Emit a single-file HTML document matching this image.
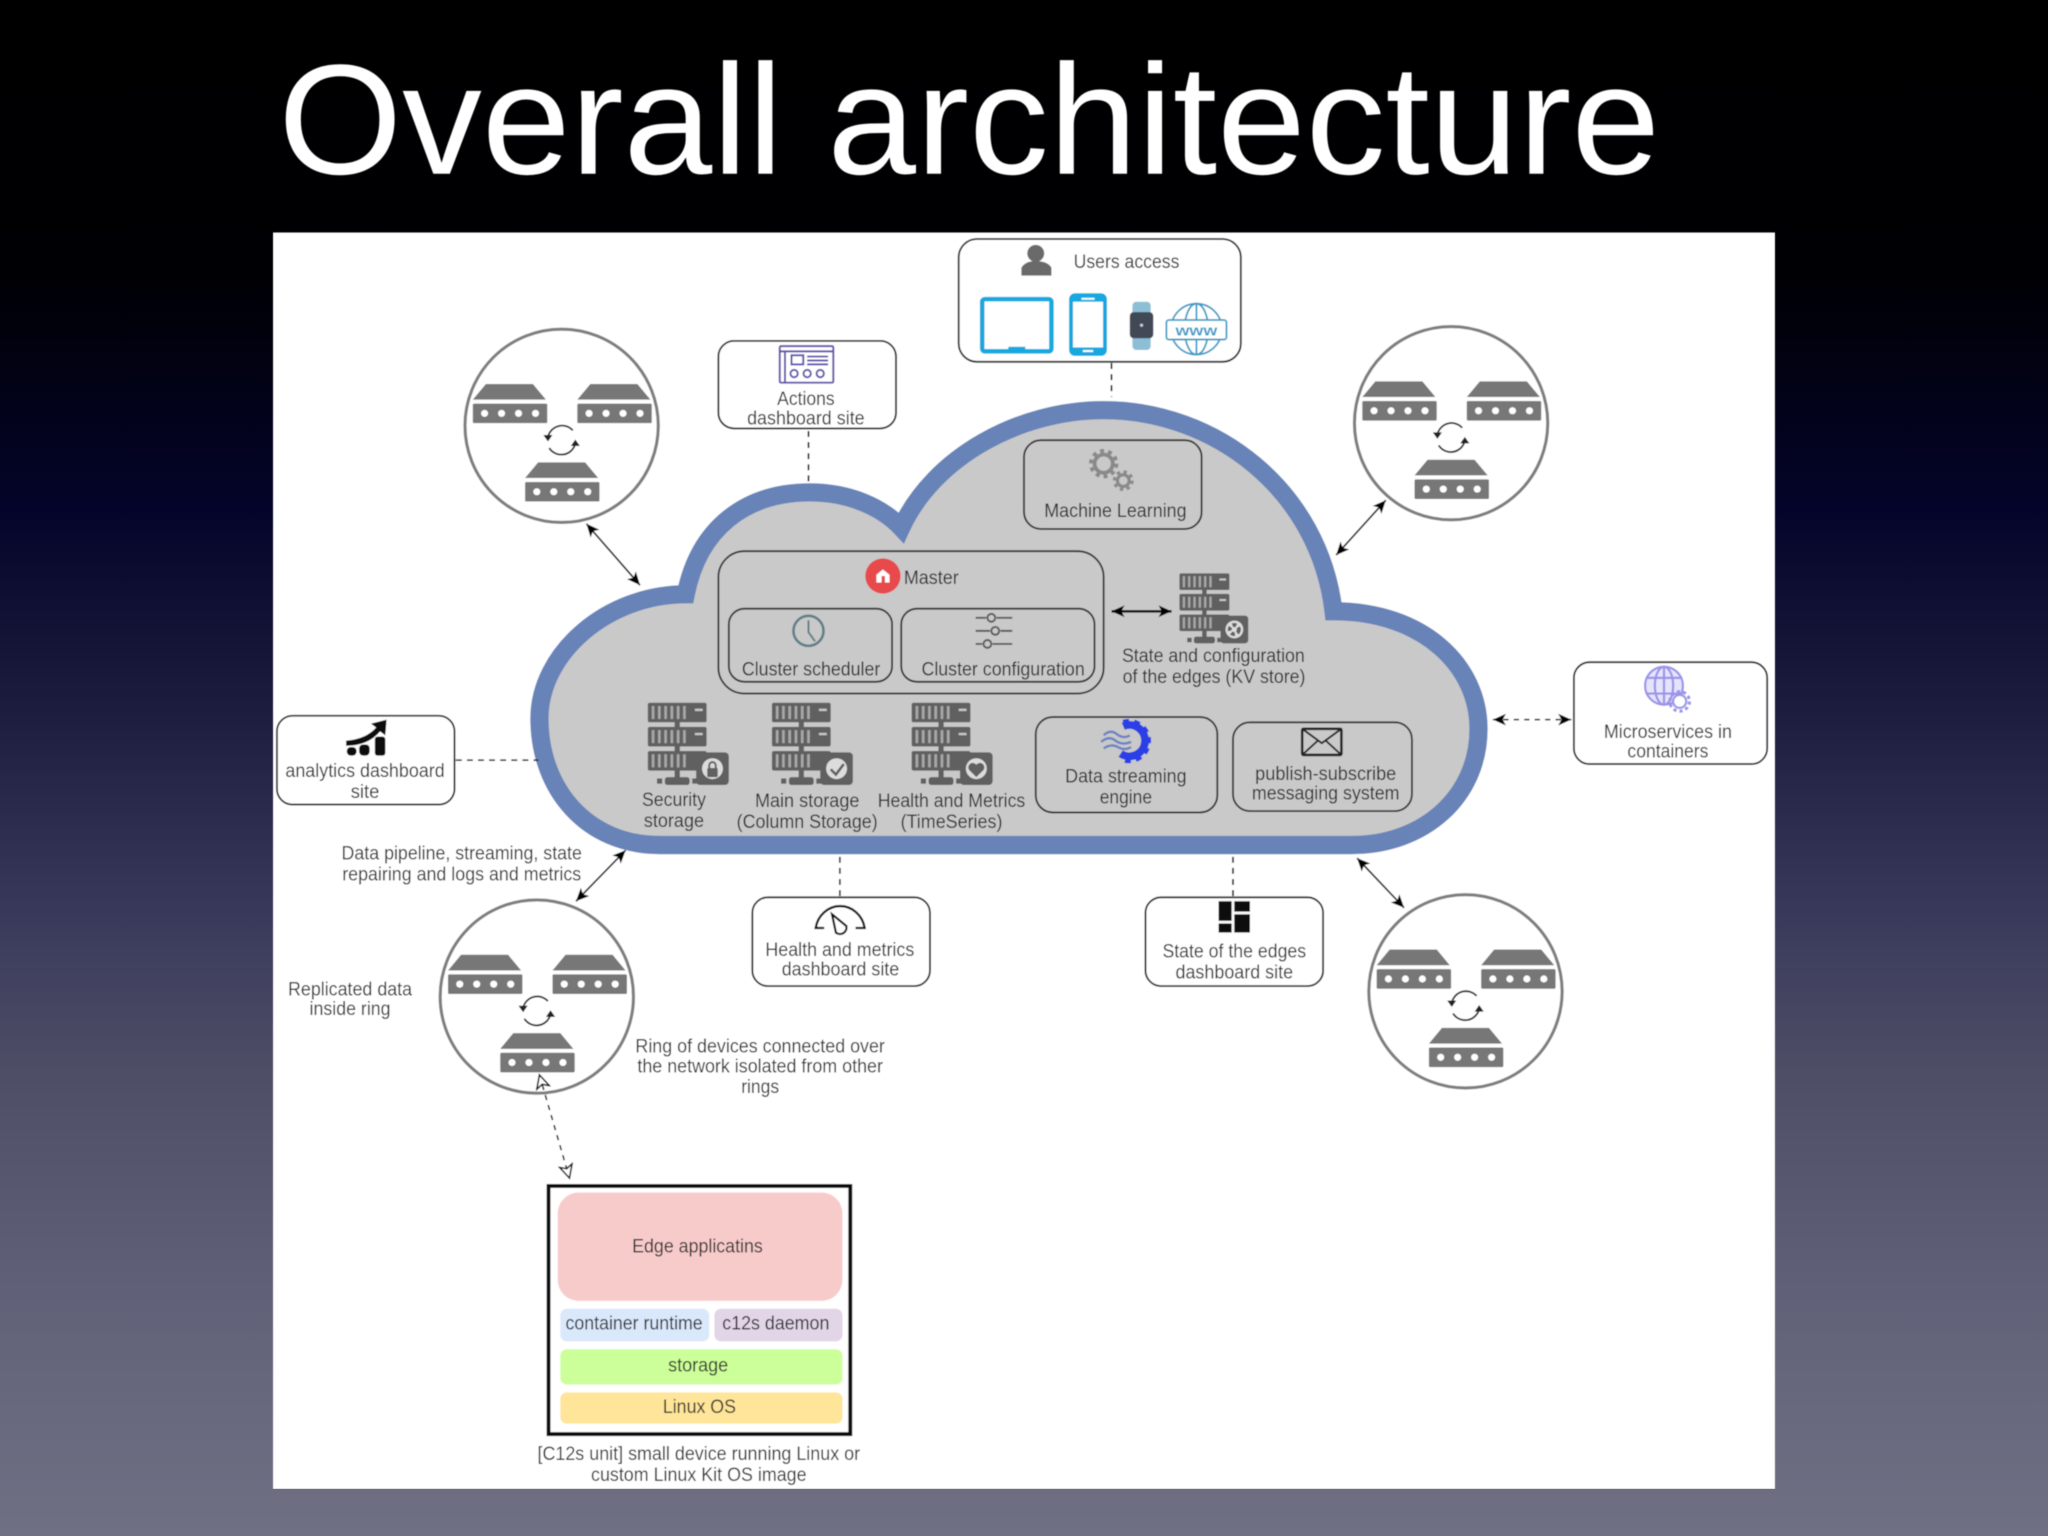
<!DOCTYPE html>
<html lang="en">
<head>
<meta charset="utf-8">
<title>Overall architecture</title>
<style>
html,body{margin:0;padding:0;width:2048px;height:1536px;overflow:hidden;background:#000}
svg{display:block}
text{font-family:"Liberation Sans",sans-serif}
.t{font-size:14.5px;fill:#2c2c2c;text-anchor:middle}
.box{fill:#fff;stroke:#222;stroke-width:1.400}
.bx{fill:none;stroke:#2e2e2e;stroke-width:1.400}
.dash{stroke:#111;stroke-width:1.300;stroke-dasharray:4.500 4;fill:none}
.arr{stroke:#111;stroke-width:1.300;fill:none;marker-start:url(#ah);marker-end:url(#ah)}
</style>
</head>
<body>
<svg width="2048" height="1536" viewBox="0 0 1568 1176" xmlns="http://www.w3.org/2000/svg">
<defs>
<linearGradient id="bg" x1="0" y1="0" x2="0" y2="1">
<stop offset="0" stop-color="#000"/>
<stop offset=".18" stop-color="#000004"/>
<stop offset=".33" stop-color="#04042a"/>
<stop offset=".46" stop-color="#1c1c3e"/>
<stop offset=".60" stop-color="#3a3a5c"/>
<stop offset=".70" stop-color="#4e4e66"/>
<stop offset=".84" stop-color="#606078"/>
<stop offset="1" stop-color="#707084"/>
</linearGradient>
<filter id="soft" x="0" y="0" width="100%" height="100%"><feGaussianBlur stdDeviation="0.4"/></filter>
<marker id="ah" markerUnits="userSpaceOnUse" markerWidth="12" markerHeight="10" refX="10" refY="5" orient="auto-start-reverse">
<path d="M0,0.5 L10,5 L0,9.5 L2.5,5 Z" fill="#000"/>
</marker>
<marker id="oa" markerUnits="userSpaceOnUse" markerWidth="14" markerHeight="12" refX="11" refY="6" orient="auto-start-reverse">
<path d="M1,1 L11,6 L1,11 L3.5,6 Z" fill="#fff" stroke="#111" stroke-width="1.200"/>
</marker>
<g id="dev">
<path d="M-18,-12 L18,-12 L28,0 L-28,0 Z" fill="#777"/>
<rect x="-28" y="3" width="57" height="15" rx="1" fill="#777"/>
<g fill="#fff"><circle cx="-19" cy="10.500" r="2.700"/><circle cx="-6" cy="10.500" r="2.700"/><circle cx="7" cy="10.500" r="2.700"/><circle cx="20" cy="10.500" r="2.700"/></g>
</g>
<g id="sync">
<g fill="none" stroke="#222" stroke-width="1.400">
<path d="M8.500,-7.500 A11,11 0 0 0 -10.500,-2"/>
<path d="M-9.500,6 A11,11 0 0 0 10.500,2.500"/>
</g>
<path d="M-14,-4 L-7,-4 L-10.500,1Z" fill="#222"/>
<path d="M7,4.500 L14,4.500 L10.500,-0.500Z" fill="#222"/>
</g>
<g id="ring">
<circle r="74" fill="#fff" stroke="#7e7e7e" stroke-width="2.400"/>
<use href="#dev" x="-40" y="-20"/>
<use href="#dev" x="40" y="-20"/>
<use href="#dev" x="0" y="40"/>
<use href="#sync" x="0" y="11"/>
</g>
<g id="srv">
<g fill="#606060">
<rect width="45" height="15" rx="1.500"/>
<rect y="18.500" width="45" height="15" rx="1.500"/>
<rect y="37" width="45" height="15" rx="1.500"/>
<rect x="20.500" y="14" width="4" height="46"/>
<rect x="13" y="57" width="19" height="6" rx="2"/>
<rect x="7" y="58" width="4" height="4"/>
<rect x="34" y="58" width="4" height="4"/>
</g>
<g stroke="#a9a9a9" stroke-width="10" stroke-dasharray="2 2.800" fill="none">
<path d="M3,7.500H30"/><path d="M3,26H30"/><path d="M3,44.500H30"/>
</g>
<g stroke="#c8c8c8" stroke-width="1.800"><path d="M36,5.500H42"/><path d="M36,24H42"/></g>
<rect x="37" y="38" width="25" height="25" rx="3" fill="#606060"/>
<circle cx="49.500" cy="50.500" r="8" fill="#dcdcdc"/>
</g>
</defs>

<rect width="1568" height="1176" fill="url(#bg)"/>
<g filter="url(#soft)">
<text x="742" y="133" font-size="120" fill="#fff" text-anchor="middle" textLength="1058" lengthAdjust="spacingAndGlyphs">Overall architecture</text>

<rect x="209" y="178" width="1150" height="962" fill="#fff"/>

<!-- cloud -->
<path d="M505,647 C450,647 413,605 413,550 C413,500 465,455 525,455 C535,405 570,377 620,377 C650,377 675,388 690,404 C715,350 780,314 845,314 C930,314 1010,375 1021,468 C1090,468 1132,510 1132,558 C1132,610 1090,647 1035,647 Z" fill="#c9c9c9" stroke="#6783b8" stroke-width="14" stroke-linejoin="miter" stroke-miterlimit="10"/>

<!-- connectors -->
<path class="dash" d="M851,278V304"/>
<path class="dash" d="M619,330V369"/>
<path class="dash" d="M349,582H412"/>
<path class="dash" d="M643,656V686"/>
<path class="dash" d="M944,656V686"/>
<path class="arr" d="M449,401L490,448"/>
<path class="arr" d="M1061,383L1023,425"/>
<path class="arr" d="M851,468H897" style="stroke-width:2"/>
<path class="arr" d="M1143,551H1203" style="stroke-dasharray:4 4"/>
<path class="arr" d="M441,690L479,651"/>
<path class="arr" d="M1039,657L1075,695"/>

<!-- rings -->
<use href="#ring" x="430" y="326"/>
<use href="#ring" x="1111" y="324"/>
<use href="#ring" x="411" y="763"/>
<use href="#ring" x="1122" y="759"/>
<path d="M413,823L436,902" fill="none" stroke="#111" stroke-width="1.200" stroke-dasharray="4 4" marker-start="url(#oa)" marker-end="url(#oa)"/>

<!-- users access -->
<rect class="box" x="734" y="183" width="216" height="94" rx="14"/>
<circle cx="793" cy="194" r="6.500" fill="#6b6b6b"/>
<path d="M782,211 L782,205 Q784,201 790,200 L796,200 Q803,201 805,205 L805,211 Z" fill="#6b6b6b"/>
<text class="t" x="862.500" y="205" textLength="81" lengthAdjust="spacingAndGlyphs">Users access</text>
<rect x="752" y="229" width="53" height="40" rx="2" fill="#fff" stroke="#12a8de" stroke-width="3.500"/>
<rect x="772" y="265.500" width="13" height="2" fill="#12a8de"/>
<rect x="820" y="226" width="26" height="45" rx="3" fill="#fff" stroke="#12a8de" stroke-width="3"/>
<rect x="820" y="226" width="26" height="5" fill="#12a8de"/>
<rect x="820" y="266" width="26" height="5" fill="#12a8de"/>
<rect x="828" y="228" width="10" height="1.500" fill="#fff"/>
<rect x="829" y="268" width="8" height="1.500" fill="#fff"/>
<rect x="867" y="231" width="14" height="37" rx="3" fill="#8cbfd6"/>
<rect x="865" y="239" width="18" height="20" rx="3" fill="#3f4854"/>
<circle cx="874" cy="249" r="1.200" fill="#ccc"/>
<g fill="none" stroke="#3d9cc8" stroke-width="1.400">
<circle cx="916" cy="252" r="19.500"/>
<ellipse cx="916" cy="252" rx="9" ry="19.500"/>
<path d="M916,232V245M916,260V272"/>
<rect x="893" y="245" width="46" height="15" rx="2" fill="#fff"/>
</g>
<text x="916" y="257" font-size="11" font-weight="bold" fill="#3d9cc8" text-anchor="middle" textLength="32" lengthAdjust="spacingAndGlyphs">www</text>

<!-- actions -->
<rect class="box" x="550" y="261" width="136" height="67" rx="12"/>
<g fill="none" stroke="#5c52a8" stroke-width="1.500">
<rect x="597" y="265" width="41" height="28" rx="1"/>
<path d="M597,269H638M601,269V293"/>
<rect x="606" y="272" width="9" height="7"/>
<path d="M618,273H634M618,276H634M618,279H634"/>
<circle cx="608" cy="286" r="2.800"/><circle cx="618" cy="286" r="2.800"/><circle cx="628" cy="286" r="2.800"/>
</g>
<text class="t" x="617" y="310" textLength="44" lengthAdjust="spacingAndGlyphs">Actions</text>
<text class="t" x="617" y="325" textLength="90" lengthAdjust="spacingAndGlyphs">dashboard site</text>

<!-- machine learning -->
<rect class="bx" x="784" y="337" width="136" height="68" rx="13"/>
<g fill="none" stroke="#8a8a8a">
<circle cx="845" cy="355" r="7" stroke-width="3"/>
<circle cx="845" cy="355" r="9.500" stroke-width="3.500" stroke-dasharray="3 2.970"/>
<circle cx="860" cy="368" r="4.500" stroke-width="2.500"/>
<circle cx="860" cy="368" r="6.500" stroke-width="3" stroke-dasharray="2.500 2.600"/>
</g>
<text class="t" x="854" y="396" textLength="109" lengthAdjust="spacingAndGlyphs">Machine Learning</text>

<!-- master -->
<rect class="bx" x="550" y="422" width="295" height="109" rx="20"/>
<circle cx="676" cy="441" r="13.500" fill="#e8494c"/>
<path d="M671,446V440L676,436L681,440V446Z" fill="#fff"/>
<rect x="675" y="441" width="2.500" height="5" fill="#e8494c"/>
<text class="t" x="713" y="447" textLength="42" lengthAdjust="spacingAndGlyphs">Master</text>
<rect class="bx" x="558" y="466" width="125" height="56" rx="12"/>
<circle cx="619" cy="483" r="11.500" fill="none" stroke="#5f7f85" stroke-width="2"/>
<path d="M619,475V484L624,491" fill="none" stroke="#5f7f85" stroke-width="1.500"/>
<text class="t" x="621" y="517" textLength="106" lengthAdjust="spacingAndGlyphs">Cluster scheduler</text>
<rect class="bx" x="690" y="466" width="148" height="56" rx="12"/>
<g fill="none" stroke="#5a5a5a" stroke-width="1.500">
<path d="M747,473H755M763,473H775M747,483H758M766,483H775M747,493H752M760,493H775"/>
<circle cx="759" cy="473" r="3"/><circle cx="762" cy="483" r="3"/><circle cx="756" cy="493" r="3"/>
</g>
<text class="t" x="768" y="517" textLength="125" lengthAdjust="spacingAndGlyphs">Cluster configuration</text>

<!-- KV store -->
<use href="#srv" transform="translate(903,439) scale(.85)"/>
<circle cx="945" cy="482" r="3.500" fill="none" stroke="#606060" stroke-width="3" stroke-dasharray="3 2"/>
<text class="t" x="929" y="507" textLength="140" lengthAdjust="spacingAndGlyphs">State and configuration</text>
<text class="t" x="929.500" y="523" textLength="140" lengthAdjust="spacingAndGlyphs">of the edges (KV store)</text>

<!-- storage icons -->
<use href="#srv" x="496" y="538"/>
<rect x="541.500" y="588" width="8" height="7" rx="1" fill="#606060"/>
<path d="M543,588V586A2.500,2.500 0 0 1 548,586V588" fill="none" stroke="#606060" stroke-width="1.500"/>
<text class="t" x="516" y="617" textLength="49" lengthAdjust="spacingAndGlyphs">Security</text>
<text class="t" x="516" y="633" textLength="46" lengthAdjust="spacingAndGlyphs">storage</text>

<use href="#srv" x="591" y="538"/>
<path d="M636,589L640,593L646,585" fill="none" stroke="#606060" stroke-width="2"/>
<text class="t" x="618" y="618" textLength="80" lengthAdjust="spacingAndGlyphs">Main storage</text>
<text class="t" x="618" y="634" textLength="108" lengthAdjust="spacingAndGlyphs">(Column Storage)</text>

<use href="#srv" x="698" y="538"/>
<path d="M747.500,595L742,589.500A3.300,3.300 0 0 1 747.500,585.500A3.300,3.300 0 0 1 753,589.500Z" fill="#606060"/>
<text class="t" x="728.500" y="618" textLength="113" lengthAdjust="spacingAndGlyphs">Health and Metrics</text>
<text class="t" x="728.500" y="634" textLength="78" lengthAdjust="spacingAndGlyphs">(TimeSeries)</text>

<!-- streaming -->
<rect class="bx" x="793" y="549" width="139" height="73" rx="13"/>
<path d="M860,556A12,12 0 1 1 858,577" fill="none" stroke="#2b3fe6" stroke-width="6"/>
<path d="M860,553A15,15 0 1 1 858,581" fill="none" stroke="#2b3fe6" stroke-width="4" stroke-dasharray="4.500 3.800"/>
<path d="M845,563q5,-5 10,-1t10,1M843,568q6,-5 11,-1t12,1M845,573q6,-4 11,-1t10,0" fill="none" stroke="#6c82c4" stroke-width="1.800"/>
<text class="t" x="862" y="599" textLength="93" lengthAdjust="spacingAndGlyphs">Data streaming</text>
<text class="t" x="862" y="615" textLength="40" lengthAdjust="spacingAndGlyphs">engine</text>

<!-- pubsub -->
<rect class="bx" x="944" y="553" width="137" height="68" rx="13"/>
<rect x="997" y="558" width="30" height="20" rx="1" fill="none" stroke="#222" stroke-width="2"/>
<path d="M997,558L1012,569L1027,558M997,578L1009,567M1027,578L1015,567" fill="none" stroke="#222" stroke-width="1.500"/>
<text class="t" x="1015" y="597" textLength="108" lengthAdjust="spacingAndGlyphs">publish-subscribe</text>
<text class="t" x="1015" y="612" textLength="113" lengthAdjust="spacingAndGlyphs">messaging system</text>

<!-- microservices -->
<rect class="box" x="1205" y="507" width="148" height="78" rx="12"/>
<g fill="#e6e4fb" stroke="#9a94ea" stroke-width="1.700">
<circle cx="1274" cy="525" r="14.500"/>
<path d="M1274,510.500V539.500M1260,519H1288M1260,531H1288" fill="none"/>
<ellipse cx="1274" cy="525" rx="7" ry="14.500" fill="none"/>
<circle cx="1286" cy="537" r="5" fill="#fff"/>
<circle cx="1286" cy="537" r="7.500" fill="none" stroke-width="2.400" stroke-dasharray="2.500 2.210"/>
</g>
<text class="t" x="1277" y="565" textLength="98" lengthAdjust="spacingAndGlyphs">Microservices in</text>
<text class="t" x="1277" y="580" textLength="62" lengthAdjust="spacingAndGlyphs">containers</text>

<!-- analytics -->
<rect class="box" x="212" y="548" width="136" height="68" rx="12"/>
<g fill="#111">
<path d="M265,567Q280,566 288,557L284,554L296,551L295,563L291,560Q282,571 265,571Z"/>
<rect x="265.500" y="572" width="7.500" height="6.500" rx="3"/>
<rect x="275" y="570" width="8" height="8.500" rx="3"/>
<rect x="287" y="564" width="8" height="14.500" rx="2"/>
</g>
<text class="t" x="279.500" y="595" textLength="122" lengthAdjust="spacingAndGlyphs">analytics dashboard</text>
<text class="t" x="279.500" y="611" textLength="22" lengthAdjust="spacingAndGlyphs">site</text>

<!-- health dashboard -->
<rect class="box" x="576" y="687" width="136" height="68" rx="12"/>
<path d="M631,710.500H624.500A19,20 0 0 1 662,710.500H655" fill="none" stroke="#111" stroke-width="1.800"/>
<path d="M637,700L648,709A5,5 0 0 1 640,714Z" fill="#fff" stroke="#111" stroke-width="1.700"/>
<text class="t" x="643" y="732" textLength="114" lengthAdjust="spacingAndGlyphs">Health and metrics</text>
<text class="t" x="643.500" y="747" textLength="90" lengthAdjust="spacingAndGlyphs">dashboard site</text>

<!-- state dashboard -->
<rect class="box" x="877" y="687" width="136" height="68" rx="12"/>
<g fill="#111">
<rect x="933" y="690" width="10" height="15"/>
<rect x="945" y="690" width="12" height="8"/>
<rect x="945" y="700" width="12" height="14"/>
<rect x="933" y="707" width="10" height="7"/>
</g>
<text class="t" x="945" y="733" textLength="110" lengthAdjust="spacingAndGlyphs">State of the edges</text>
<text class="t" x="945" y="749" textLength="90" lengthAdjust="spacingAndGlyphs">dashboard site</text>

<!-- free labels -->
<text class="t" x="353.500" y="658" textLength="184" lengthAdjust="spacingAndGlyphs">Data pipeline, streaming, state</text>
<text class="t" x="353.500" y="674" textLength="183" lengthAdjust="spacingAndGlyphs">repairing and logs and metrics</text>
<text class="t" x="268" y="762" textLength="95" lengthAdjust="spacingAndGlyphs">Replicated data</text>
<text class="t" x="268" y="777" textLength="62" lengthAdjust="spacingAndGlyphs">inside ring</text>
<text class="t" x="582" y="806" textLength="191" lengthAdjust="spacingAndGlyphs">Ring of devices connected over</text>
<text class="t" x="582" y="821" textLength="188" lengthAdjust="spacingAndGlyphs">the network isolated from other</text>
<text class="t" x="582" y="837" textLength="29" lengthAdjust="spacingAndGlyphs">rings</text>

<!-- C12s unit -->
<rect x="420" y="908" width="231" height="190" fill="#fff" stroke="#111" stroke-width="3"/>
<rect x="427" y="913" width="218" height="83" rx="16" fill="#f8cbcb"/>
<text class="t" x="534" y="959" textLength="100" lengthAdjust="spacingAndGlyphs">Edge applicatins</text>
<rect x="429" y="1002" width="114" height="25" rx="5" fill="#dae8fc"/>
<text class="t" x="485.500" y="1018" textLength="105" lengthAdjust="spacingAndGlyphs">container runtime</text>
<rect x="547" y="1002" width="98" height="25" rx="5" fill="#e1d5e7"/>
<text class="t" x="594" y="1018" textLength="82" lengthAdjust="spacingAndGlyphs">c12s daemon</text>
<rect x="429" y="1033" width="216" height="27" rx="5" fill="#ccff99"/>
<text class="t" x="534.500" y="1050" textLength="46" lengthAdjust="spacingAndGlyphs">storage</text>
<rect x="429" y="1066" width="216" height="24" rx="5" fill="#ffe599"/>
<text class="t" x="535.500" y="1082" textLength="56" lengthAdjust="spacingAndGlyphs">Linux OS</text>
<text class="t" x="535" y="1118" textLength="247" lengthAdjust="spacingAndGlyphs">[C12s unit] small device running Linux or</text>
<text class="t" x="535" y="1134" textLength="165" lengthAdjust="spacingAndGlyphs">custom Linux Kit OS image</text>
</g>
</svg>
</body>
</html>
